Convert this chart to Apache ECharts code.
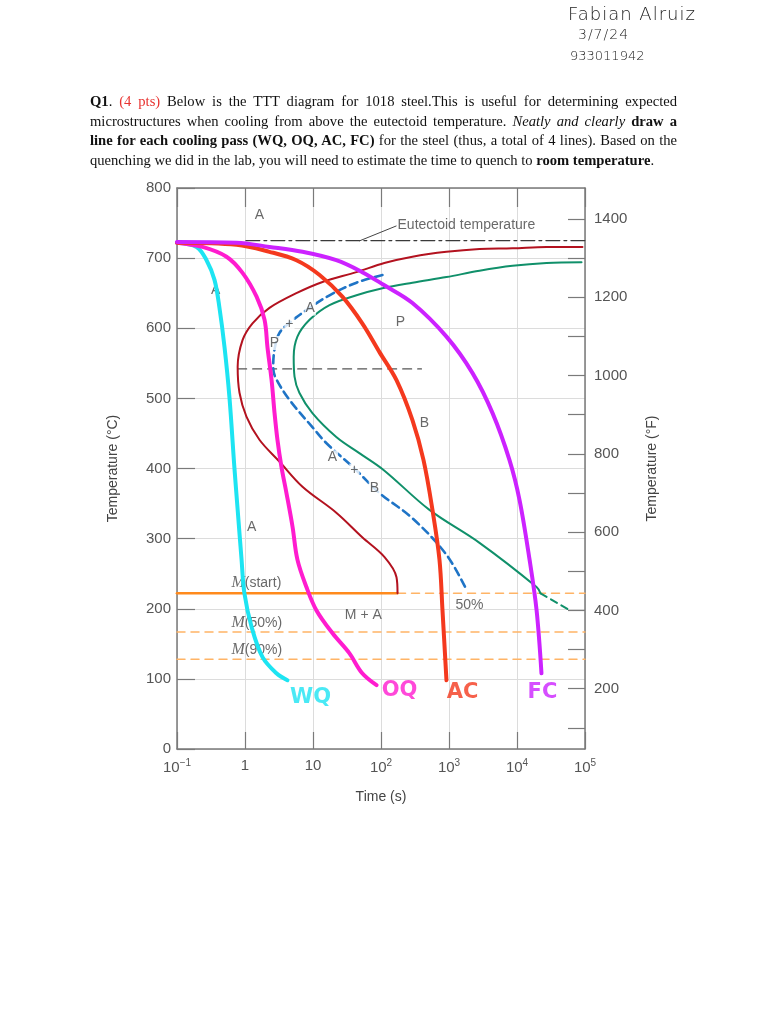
<!DOCTYPE html>
<html>
<head>
<meta charset="utf-8">
<script src="https://cdn.jsdelivr.net/npm/echarts@6/dist/echarts.min.js"></script>
<style>
body { margin:0; background:#fff; }
#page { position:relative; width:768px; height:1024px; overflow:hidden; }
#chart { position:absolute; left:0; top:0; width:768px; height:1024px; }
.hand { position:absolute; font-family:"DejaVu Sans"; font-weight:200; color:#222; white-space:nowrap; }
#q { position:absolute; left:90px; top:92px; width:587px; font-family:"Liberation Serif"; font-size:14.6px; line-height:19.7px; color:#111; z-index:2; }
#q .ln { text-align:justify; text-align-last:justify; white-space:nowrap; }
#q .ln.last { text-align-last:left; }
#q .red { color:#e8322f; }
</style>
</head>
<body>
<div id="page">
  <div id="chart"></div>
  <div class="hand" style="left:568px;top:3px;font-size:18px;letter-spacing:1px;">Fabian Alruiz</div>
  <div class="hand" style="left:578px;top:26px;font-size:14px;letter-spacing:1px;">3/7/24</div>
  <div class="hand" style="left:570px;top:48px;font-size:13px;">933011942</div>
  <div id="q">
    <div class="ln"><b>Q1</b>. <span class="red">(4 pts)</span> Below is the TTT diagram for 1018 steel.This is useful for determining expected</div>
    <div class="ln">microstructures when cooling from above the eutectoid temperature. <i>Neatly and clearly</i> <b>draw a</b></div>
    <div class="ln"><b>line for each cooling pass (WQ, OQ, AC, FC)</b> for the steel (thus, a total of 4 lines). Based on the</div>
    <div class="ln last">quenching we did in the lab, you will need to estimate the time to quench to <b>room temperature</b>.</div>
  </div>
</div>
<script>
// time (s), temperature (C)
var wqCurve = [[0.1,722],[0.194,716],[0.272,697],[0.356,669],[0.42,630],[0.50,573],[0.59,502],[0.70,400],[0.78,341],[0.89,270],[0.98,222],[1.25,174],[1.81,131],[2.9,108],[4.2,98]];
var oqCurve = [[0.1,722],[0.237,716],[0.535,702],[0.92,679],[1.48,645],[1.94,612],[2.14,573],[2.46,526],[2.72,479],[3.0,441],[3.44,402],[4.07,365],[5.0,317],[5.9,270],[8.0,231],[11.2,198],[19.4,165],[34,137],[53,108],[86,91]];
var acCurve = [[0.1,722],[0.75,719],[2.29,709],[5.7,697],[12.5,676],[27,645],[53,607],[95,566],[169,526],[290,469],[422,412],[571,341],[724,270],[802,198],[918,98]];
var fcCurve = [[0.1,723],[0.75,722],[2.29,716],[7.0,709],[22,697],[53,680],[109,662],[290,636],[918,588],[2220,536],[4370,479],[7760,412],[10900,355],[15300,270],[19400,198],[22900,108]];

var startCurve = [[91800,716],[27200,716],[8590,714],[2810,713],[918,709],[290,702],[112,693],[43.6,680],[13.8,666],[5.7,650],[2.29,629],[1.29,607],[0.92,583],[0.78,545],[0.83,508],[1.05,474],[1.63,441],[3.2,410],[7.0,374],[22,337],[53,302],[112,274],[169,245],[175,222]];
var finishCurve = [[88900,694],[27200,693],[8590,689],[2810,682],[918,673],[290,665],[105,657],[43.6,647],[17.5,633],[8.9,612],[5.9,588],[5.2,559],[5.35,531],[6.3,508],[9.8,479],[22,445],[48,422],[109,398],[516,341],[2810,294],[19400,231],[22200,222]];
var finishBelowMs = [[22200,222],[59200,198]];
var halfCurve = [[105,676],[43.6,665],[17.5,647],[8.9,629],[4.4,607],[3.2,593],[2.72,570],[2.6,545],[2.8,530],[4.5,498],[9.8,459],[15.8,436],[40.7,400],[95,365],[290,329],[918,277],[1810,227]];

var eutectoidT = 725;
var eutectoidStart = 1.03;
var noseDashT = 542;
var noseDashRange = [0.78, 394];
var msT = 222, m50T = 167, m90T = 128;
var msSolidEnd = 175;

var regionLabels = [[1.63,762,'A'],[0.37,655,'A'],[1.25,317,'A'],[193,608,'P'],[435,465,'B'],[55,191,'M + A'],[2000,205,'50%']];
var halfLabels = [[9.1,628,'A'],[4.5,606,'+'],[2.7,579,'P'],[19.3,416,'A'],[40.7,397,'+'],[80,372,'B']];
var mLabels = [[0.632,237,'{it|M}(start)'],[0.632,180,'{it|M}(50%)'],[0.632,141,'{it|M}(90%)']];
var eutectoidText = [175,747,'Eutectoid temperature'];
var arrowFrom = [169,746], arrowTo = [48,724.5];

var passLabels = [[9.2,73,'WQ','#1de4f2'],[187,83,'OQ','#ff1ccf'],[1580,81,'AC','#f4391e'],[23700,81,'FC','#cc22ff']];

var fTicks = [100,200,300,400,500,600,700,800,900,1000,1100,1200,1300,1400];
var fLabels = [200,400,600,800,1000,1200,1400];

var FONT = 'Liberation Sans';
var GRAY = '#555';
var AXIS = '#7a7a7a';

function timeLabel(v){
    var p = Math.round(Math.log(v)/Math.LN10);
    if(p == 0) return '1';
    if(p == 1) return '10';
    return '10{sup|' + (p < 0 ? '\u2212' + (-p) : p) + '}';
}

function lineSeries(data, color, width, type, z){
    return {
        type:'line', data:data, showSymbol:false, symbol:'none', smooth:0.35,
        lineStyle:{color:color, width:width, type:type || 'solid', cap:'round', join:'round'},
        z:z || 2, silent:true
    };
}

function textData(list, extra){
    var out = [];
    for(var i=0;i<list.length;i++){
        var it = {value:[list[i][0], list[i][1]], name:list[i][2]};
        if(extra) it.label = extra(list[i]);
        out.push(it);
    }
    return out;
}

var chart = echarts.init(document.getElementById('chart'), null, {renderer:'canvas'});

var option = {
    animation:false,
    textStyle:{fontFamily:FONT},
    grid:{left:177, top:188, width:408, height:561},
    xAxis:[{
        type:'log', logBase:10, min:0.1, max:100000, splitNumber:6,
        name:'Time (s)', nameLocation:'middle', nameGap:41,
        nameTextStyle:{color:'#444', fontSize:14, fontFamily:FONT},
        axisLine:{show:true, lineStyle:{color:AXIS, width:1.5}},
        axisTick:{show:true, inside:true, length:17, lineStyle:{color:AXIS, width:1.2}},
        axisLabel:{color:GRAY, fontSize:15, margin:9, formatter:timeLabel,
            rich:{sup:{fontSize:10, color:GRAY, padding:[0,0,9,0]}}},
        splitLine:{show:true, lineStyle:{color:'#dcdcdc', width:1}}
    },{
        type:'log', logBase:10, min:0.1, max:100000, splitNumber:6, position:'top',
        axisLine:{show:true, lineStyle:{color:AXIS, width:1.5}},
        axisTick:{show:true, inside:true, length:19, lineStyle:{color:AXIS, width:1.2}},
        axisLabel:{show:false}, splitLine:{show:false}
    }],
    yAxis:[{
        type:'value', min:0, max:800, interval:100,
        name:'Temperature (\u00b0C)', nameLocation:'middle', nameGap:57, nameRotate:90,
        nameTextStyle:{color:'#444', fontSize:14, fontFamily:FONT},
        axisLine:{show:true, lineStyle:{color:AXIS, width:1.5}},
        axisTick:{show:true, inside:true, length:18, lineStyle:{color:AXIS, width:1.2}},
        axisLabel:{color:GRAY, fontSize:15, margin:6},
        splitLine:{show:true, lineStyle:{color:'#dcdcdc', width:1}}
    },{
        type:'value', min:46, max:1479, position:'right',
        name:'Temperature (\u00b0F)', nameLocation:'middle', nameGap:60, nameRotate:90,
        nameTextStyle:{color:'#444', fontSize:14, fontFamily:FONT},
        axisLine:{show:true, lineStyle:{color:AXIS, width:1.5}},
        axisTick:{show:true, inside:true, length:17, customValues:fTicks, lineStyle:{color:AXIS, width:1.2}},
        axisLabel:{color:GRAY, fontSize:15, margin:9, customValues:fLabels,
            formatter:function(v){ return String(Math.round(v)); }},
        splitLine:{show:false}
    }],
    series:[]
};

var s = option.series;

// eutectoid line + arrow
var eut = lineSeries([[eutectoidStart,eutectoidT],[100000,eutectoidT]], '#3a3a3a', 1.1, [14,4,3,4], 1);
eut.smooth = false;
eut.markLine = {
    silent:true, symbol:['none','arrow'], symbolSize:[0,9], label:{show:false},
    lineStyle:{color:'#444', width:1, type:'solid', curveness:0.12},
    data:[[{coord:arrowFrom},{coord:arrowTo}]]
};
s.push(eut);

var nd = lineSeries([[noseDashRange[0],noseDashT],[noseDashRange[1],noseDashT]], '#555', 1.1, [9,6], 1);
nd.smooth = false; s.push(nd);

var ms1 = lineSeries([[0.1,msT],[msSolidEnd,msT]], '#ff8a1c', 2.6, 'solid', 2); ms1.smooth = false; s.push(ms1);
var ms2 = lineSeries([[msSolidEnd,msT],[100000,msT]], '#ffb466', 1.5, [8,6], 2); ms2.smooth = false; s.push(ms2);
var m50 = lineSeries([[0.1,m50T],[100000,m50T]], '#ffb466', 1.5, [8,6], 2); m50.smooth = false; s.push(m50);
var m90 = lineSeries([[0.1,m90T],[100000,m90T]], '#ffb466', 1.5, [8,6], 2); m90.smooth = false; s.push(m90);

s.push(lineSeries(startCurve, '#b3121f', 2, 'solid', 3));
s.push(lineSeries(finishCurve, '#10906a', 2, 'solid', 3));
var fb = lineSeries(finishBelowMs, '#10906a', 2, [7,5], 3); fb.smooth = false; s.push(fb);
s.push(lineSeries(halfCurve, '#1f74c6', 2.6, [8,5], 3));

s.push({
    type:'scatter', symbolSize:0, silent:true, z:4,
    data:textData(regionLabels),
    label:{show:true, position:'inside', formatter:'{b}', color:'#444', fontSize:14, fontFamily:FONT}
});
s.push({
    type:'scatter', symbolSize:0, silent:true, z:4,
    data:textData(halfLabels),
    label:{show:true, position:'inside', formatter:'{b}', color:'#444', fontSize:14, fontFamily:FONT,
        backgroundColor:'#fff', padding:[0,1]}
});
s.push({
    type:'scatter', symbolSize:0, silent:true, z:4,
    data:textData(mLabels),
    label:{show:true, position:'inside', align:'left', formatter:'{b}', color:'#444', fontSize:14, fontFamily:FONT,
        rich:{it:{fontFamily:'Liberation Serif', fontStyle:'italic', fontSize:16, color:'#444'}}}
});
s.push({
    type:'scatter', symbolSize:0, silent:true, z:4,
    data:textData([eutectoidText]),
    label:{show:true, position:'inside', align:'left', formatter:'{b}', color:'#444', fontSize:14, fontFamily:FONT}
});

// hand drawn cooling paths
s.push(lineSeries(wqCurve, '#1de4f2', 4, 'solid', 10));
s.push(lineSeries(oqCurve, '#ff1ccf', 4, 'solid', 10));
s.push(lineSeries(acCurve, '#f4391e', 4, 'solid', 10));
s.push(lineSeries(fcCurve, '#cc22ff', 4, 'solid', 10));

s.push({
    type:'scatter', symbolSize:0, silent:true, z:11,
    data:textData(passLabels, function(r){ return {color:r[3]}; }),
    label:{show:true, position:'inside', formatter:'{b}', fontSize:21, fontWeight:'bold', fontFamily:'DejaVu Sans'}
});

chart.setOption(option);
</script>
</body>
</html>
